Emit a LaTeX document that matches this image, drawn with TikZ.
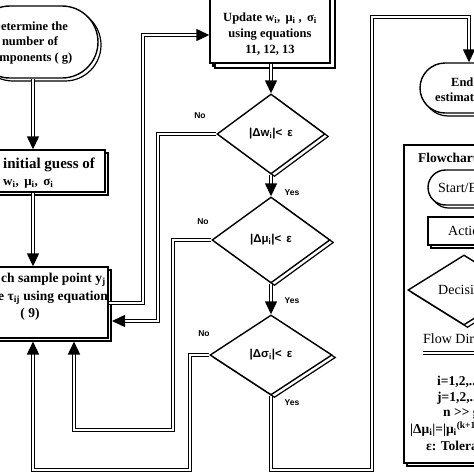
\documentclass[tikz,border=0pt]{standalone}
\usepackage{fontspec}
\setmainfont[Ligatures=NoCommon]{Liberation Serif}
\newfontfamily\sansf{Liberation Sans}
\usetikzlibrary{shapes.geometric,shapes.misc,shadows,arrows.meta}
\begin{document}
\begin{tikzpicture}[x=1pt,y=-1pt,
  shp/.style={draw=black, line width=1.4pt, fill=white, inner sep=0pt},
  shd/.style={copy shadow={shadow xshift=#1, shadow yshift=-#1, draw=black, fill=white, line width=1.2pt}},
  shd/.default=3pt,
  term/.style={shp, rounded rectangle, shd},
  actbox/.style={shp, rectangle, shd},
  dec/.style={shp, diamond, copy shadow={shadow xshift=3.5pt, shadow yshift=-2.5pt, draw=black, fill=white, line width=1.2pt}},
  conn/.style={line width=1.4pt, double=white, double distance=2pt},
  tip/.style={-{Triangle[length=13pt,width=12pt]}},
  txt/.style={inner sep=0pt, align=center},
  lbl/.style={inner sep=0pt, font=\sansf\bfseries\fontsize{8.5}{10}\selectfont},
  dtxt/.style={inner sep=0pt, font=\sansf\bfseries\fontsize{11.5}{13}\selectfont},
  legr/.style={inner sep=0pt, anchor=west, font=\fontsize{14}{16}\selectfont},
  legb/.style={inner sep=0pt, anchor=west, font=\bfseries\fontsize{13.5}{16}\selectfont},
]
\useasboundingbox (0,0) rectangle (474,474);
% main shapes
\node[term, minimum width=124pt, minimum height=72pt] (det) at (36,42) {};
\node[actbox, minimum width=146pt, minimum height=42pt] (init) at (32,171) {};
\node[actbox, minimum width=156pt, minimum height=71pt] (samp) at (30,302.5) {};
\node[actbox, shd=5pt, minimum width=120pt, minimum height=92pt] (upd) at (270,17) {};
\node[dec, minimum width=108pt, minimum height=80pt] (d1) at (271,134) {};
\node[dec, minimum width=118pt, minimum height=86pt] (d2) at (271,240) {};
\node[dec, minimum width=122pt, minimum height=80pt] (d3) at (271,355) {};
\node[term, minimum width=110pt, minimum height=50pt] (endn) at (475,88) {};
% legend
\node[actbox, minimum width=141pt, minimum height=318pt] (leg) at (474.5,304) {};
\node[term, minimum width=92pt, minimum height=35pt] (lstart) at (474,187.5) {};
\node[actbox, minimum width=92pt, minimum height=28pt] (lact) at (474,231) {};
\node[dec, minimum width=112pt, minimum height=70pt] (ldec) at (464,290) {};

% texts
\node[txt, font=\bfseries\fontsize{12.5}{15.5}\selectfont] (dett) at (30,43) {Determine the\\number of\\components ( g)};
\node[txt, anchor=west, font=\bfseries\fontsize{15}{18}\selectfont] (initt1) at (3,165) {initial guess of};
\node[txt, anchor=west, font=\bfseries\fontsize{13}{16}\selectfont] (initt2) at (3,183) {w\textsubscript{i}, \,μ\textsubscript{i}, \,σ\textsubscript{i}};
\node[txt, anchor=west, font=\bfseries\fontsize{13.5}{16}\selectfont] (sampt1) at (1,280) {ch sample point y\textsubscript{j}};
\node[txt, anchor=west, font=\bfseries\fontsize{13.5}{16}\selectfont] (sampt2) at (-2,298) {e τ\textsubscript{ij} using equation};
\node[txt, font=\bfseries\fontsize{13.5}{16}\selectfont] (sampt3) at (30,314) {( 9)};
\node[txt, font=\bfseries\fontsize{12.5}{16}\selectfont] (updt) at (270,34) {Update w\textsubscript{i}, \,μ\textsubscript{i} , \,σ\textsubscript{i}\\using equations\\11, 12, 13};
\node[dtxt] (d1t) at (d1) {|Δw\textsubscript{i}|< \,ε};
\node[dtxt] (d2t) at (d2) {|Δμ\textsubscript{i}|< \,ε};
\node[dtxt] (d3t) at (d3) {|Δσ\textsubscript{i}|< \,ε};
\node[txt, anchor=west, font=\bfseries\fontsize{12.5}{14}\selectfont] (endt1) at (451,82) {End};
\node[txt, anchor=west, font=\bfseries\fontsize{12.5}{14}\selectfont] (endt2) at (435,97) {estimation};

\node[legb] (legt) at (418,158) {Flowchart};
\node[legr] (lst) at (438,188) {Start/End};
\node[legr] (lat) at (448,231) {Action};
\node[legr] (ldt) at (438,290) {Decision};
\node[legr] (lft) at (423,339) {Flow Direction};
\node[legb] (li) at (437,382) {i=1,2,...,g};
\node[legb] (lj) at (437,398) {j=1,2,...,n};
\node[legb] (ln) at (443,414) {n {>}\kern0pt{>} g};
\node[legb] (lmu) at (410,429) {|Δμ\textsubscript{i}|=|μ\textsubscript{i}\textsuperscript{(k+1)}};
\node[legb] (leps) at (426,446) {ε: Tolerance};

% labels
\node[lbl] (no1) at (200,116) {No};
\node[lbl] (no2) at (203,222) {No};
\node[lbl] (no3) at (204,334) {No};
\node[lbl] (yes1) at (292,193) {Yes};
\node[lbl] (yes2) at (292,301) {Yes};
\node[lbl] (yes3) at (292,403) {Yes};

% coordinates for bends
\coordinate (a1) at (33,0);
\coordinate (p1) at (143,303);
\coordinate (p2) at (143,35);
\coordinate (e1) at (158,0);
\coordinate (e2) at (112,321);
\coordinate (f1) at (173,0);
\coordinate (f2) at (74,430);
\coordinate (g1) at (190,0);
\coordinate (g2) at (33,470);
\coordinate (sampB) at (0,341.5);
\coordinate (h1) at (372,470);
\coordinate (h2) at (469,17);
\coordinate (fl1) at (423,353);
\coordinate (fl2) at (495,353);

% connectors
\draw[conn,tip] (det.south -| a1) -- (init.north -| a1);
\draw[conn,tip] (init.south -| a1) -- (samp.north -| a1);
\draw[conn,tip] (samp.east |- p1) -- (p1) -- (p2) -- (upd.west |- p2);
\draw[conn,tip] (upd.south -| d1.north) -- (d1.north);
\draw[conn,tip] (d1.south) -- (d2.north);
\draw[conn,tip] (d2.south) -- (d3.north);
\draw[conn,tip] (d1.west) -- (d1.west -| e1) -- (e1 |- e2) -- (e2);
\draw[conn,tip] (d2.west) -- (d2.west -| f1) -- (f1 |- f2) -- (f2) -- (f2 |- sampB);
\draw[conn,tip] (d3.west) -- (d3.west -| g1) -- (g1 |- g2) -- (g2) -- (g2 |- sampB);
\draw[conn,tip] (d3.south) -- (d3.south |- h1) -- (h1) -- (h1 |- h2) -- (h2) -- (h2 |- endn.north);
\draw[conn,tip] (fl1) -- (fl2);
\end{tikzpicture}
\end{document}
